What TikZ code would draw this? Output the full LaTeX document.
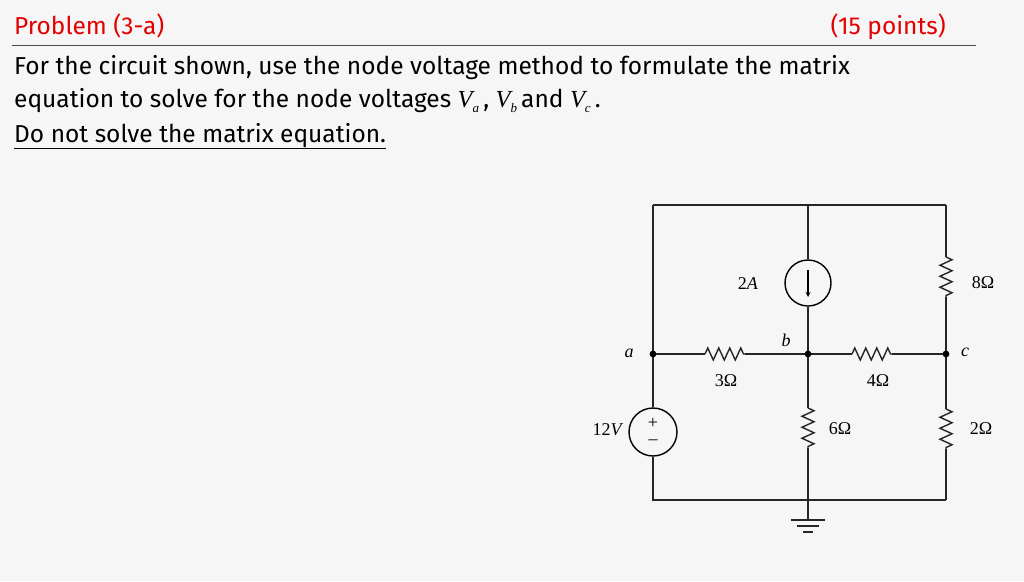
\documentclass[tikz,border=0pt]{standalone}
\usepackage{fontspec}
\setmainfont{Fira Sans}
\newfontfamily\serf{Liberation Serif}
\usetikzlibrary{decorations.pathmorphing}
\newcommand{\vv}[1]{{\serf\itshape V}\raisebox{-5pt}{\serf\itshape\fontsize{13}{13}\selectfont #1}}
\begin{document}
\begin{tikzpicture}[x=1pt,y=-1pt,
  wire/.style={line width=1.4pt,black!85},
  res/.style={wire,decorate,decoration={zigzag,segment length=11pt,amplitude=6pt}},
  lbl/.style={font=\serf\fontsize{18}{18}\selectfont},
  txt/.style={anchor=base west,inner sep=0,font=\fontsize{24.5}{24.5}\selectfont}]
\fill[gray!7] (0,0) rectangle (1024,581);
\useasboundingbox (0,0) rectangle (1024,581);
\node[txt,text=red!90!black] (t1) at (14,34) {Problem (3-a)};
\node[txt,text=red!90!black,anchor=base east] (t2) at (946,34) {(15 points)};
\draw[gray!60!black,line width=0.7pt] (12,45) coordinate (l1) -- (976,45) coordinate (l2);
\node[txt] (p1) at (14,74) {For the circuit shown, use the node voltage method to formulate the matrix};
\node[txt] (p2) at (14,107) {equation to solve for the node voltages \vv{a}\,, \vv{b}\,and \vv{c}\,.};
\node[txt] (p3) at (14,142) {\underline{Do not solve the matrix equation.}};
\coordinate (tl) at (653,205); \coordinate (tm) at (808,205); \coordinate (tr) at (946,205);
\coordinate (a) at (653,354); \coordinate (b) at (808,354); \coordinate (c) at (946,354);
\coordinate (bl) at (653,500); \coordinate (bm) at (808,500); \coordinate (br) at (946,500);
\node[circle,draw,line width=1.4pt,minimum size=46pt,inner sep=0] (cs) at (808,283) {};
\node[circle,draw,line width=1.4pt,minimum size=48pt,inner sep=0] (vs) at (653,432) {};
\draw[wire] (tl) -- (tr);
\draw[wire] (tl) -- (a) -- (vs.north);
\draw[wire] (vs.south) -- (bl) -- (br);
\draw[wire] (tm) -- (cs.north);
\draw[wire] (cs.south) -- (b);
\draw[-stealth,line width=1.2pt] (808,270) coordinate (ar1) -- (808,297) coordinate (ar2);
\node[lbl] (pl) at (653,423) {+};
\node[lbl] (mi) at (653,442) {–};
\coordinate (r1s) at (705,354); \coordinate (r1e) at (745,354);
\draw[wire] (a) -- (r1s); \draw[res] (r1s) -- (r1e); \draw[wire] (r1e) -- (b);
\coordinate (r2s) at (852,354); \coordinate (r2e) at (892,354);
\draw[wire] (b) -- (r2s); \draw[res] (r2s) -- (r2e); \draw[wire] (r2e) -- (c);
\coordinate (r3s) at (808,408); \coordinate (r3e) at (808,448);
\draw[wire] (b) -- (r3s); \draw[res] (r3s) -- (r3e); \draw[wire] (r3e) -- (bm);
\coordinate (r4s) at (946,257); \coordinate (r4e) at (946,297);
\draw[wire] (tr) -- (r4s); \draw[res] (r4s) -- (r4e); \draw[wire] (r4e) -- (c);
\coordinate (r5s) at (946,409); \coordinate (r5e) at (946,449);
\draw[wire] (c) -- (r5s); \draw[res] (r5s) -- (r5e); \draw[wire] (r5e) -- (br);
\coordinate (g) at (808,520);
\draw[wire] (bm) -- (g);
\draw[wire] (791,520) coordinate (g1) -- (825,520) coordinate (g2);
\draw[wire] (797,526) coordinate (g3) -- (819,526) coordinate (g4);
\draw[wire] (803,532) coordinate (g5) -- (813,532) coordinate (g6);
\fill (a) circle (3.4pt); \fill (b) circle (3.4pt); \fill (c) circle (3.4pt);
\node[lbl] (la) at (629,353) {\itshape a};
\node[lbl] (lb) at (786,340) {\itshape b};
\node[lbl] (lc) at (965,352) {\itshape c};
\node[lbl] (l3) at (726,381) {3Ω};
\node[lbl] (l4) at (878,381) {4Ω};
\node[lbl] (l6) at (840,429) {6Ω};
\node[lbl] (l8) at (983,283) {8Ω};
\node[lbl] (l2) at (981,429) {2Ω};
\node[lbl] (l2a) at (748,284) {2\textit{A}};
\node[lbl] (l12) at (608,430) {12\textit{V}};
\end{tikzpicture}
\end{document}
